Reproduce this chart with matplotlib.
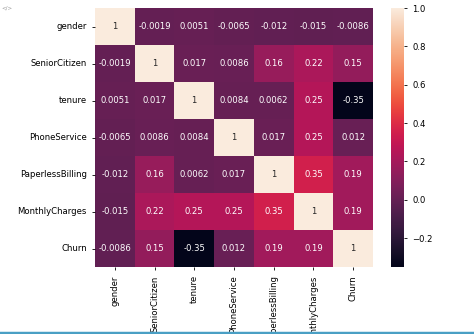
import numpy as np
import matplotlib
matplotlib.use('Agg')
import matplotlib.pyplot as plt
import seaborn as sns
from matplotlib.lines import Line2D

labels = ['gender', 'SeniorCitizen', 'tenure', 'PhoneService',
          'PaperlessBilling', 'MonthlyCharges', 'Churn']
gender = [1, -0.0019, 0.0051, -0.0065, -0.012, -0.015, -0.0086]
senior = [-0.0019, 1, 0.017, 0.0086, 0.16, 0.22, 0.15]
tenure = [0.0051, 0.017, 1, 0.0084, 0.0062, 0.25, -0.35]
phone = [-0.0065, 0.0086, 0.0084, 1, 0.017, 0.25, 0.012]
paperless = [-0.012, 0.16, 0.0062, 0.017, 1, 0.35, 0.19]
monthly = [-0.015, 0.22, 0.25, 0.25, 0.35, 1, 0.19]
churn = [-0.0086, 0.15, -0.35, 0.012, 0.19, 0.19, 1]

corr = np.array([gender, senior, tenure, phone, paperless, monthly, churn])

fig = plt.figure(figsize=(4.74, 3.34), dpi=100)
ax = fig.add_axes([95 / 474, 1 - 267 / 334, 278 / 474, 259 / 334])
cax = fig.add_axes([391 / 474, 1 - 267 / 334, 13 / 474, 259 / 334])

sns.heatmap(corr, annot=True, ax=ax, cbar_ax=cax,
            xticklabels=labels, yticklabels=labels,
            annot_kws={'fontsize': 6.1})
ax.tick_params(labelsize=6.1, length=2.5, width=0.6)
cax.tick_params(labelsize=6.1, length=2.5, width=0.6)
plt.setp(ax.get_xticklabels(), rotation=90)
plt.setp(ax.get_yticklabels(), rotation=0)

# notebook UI bits
fig.text(0.002, 0.985, '</>', fontsize=4, color='#999999', va='top')
fig.add_artist(Line2D([0, 1], [0.004, 0.004], color='#4a9fc4', linewidth=2.5,
                      transform=fig.transFigure, zorder=10))

fig.savefig('out.png', dpi=100)
